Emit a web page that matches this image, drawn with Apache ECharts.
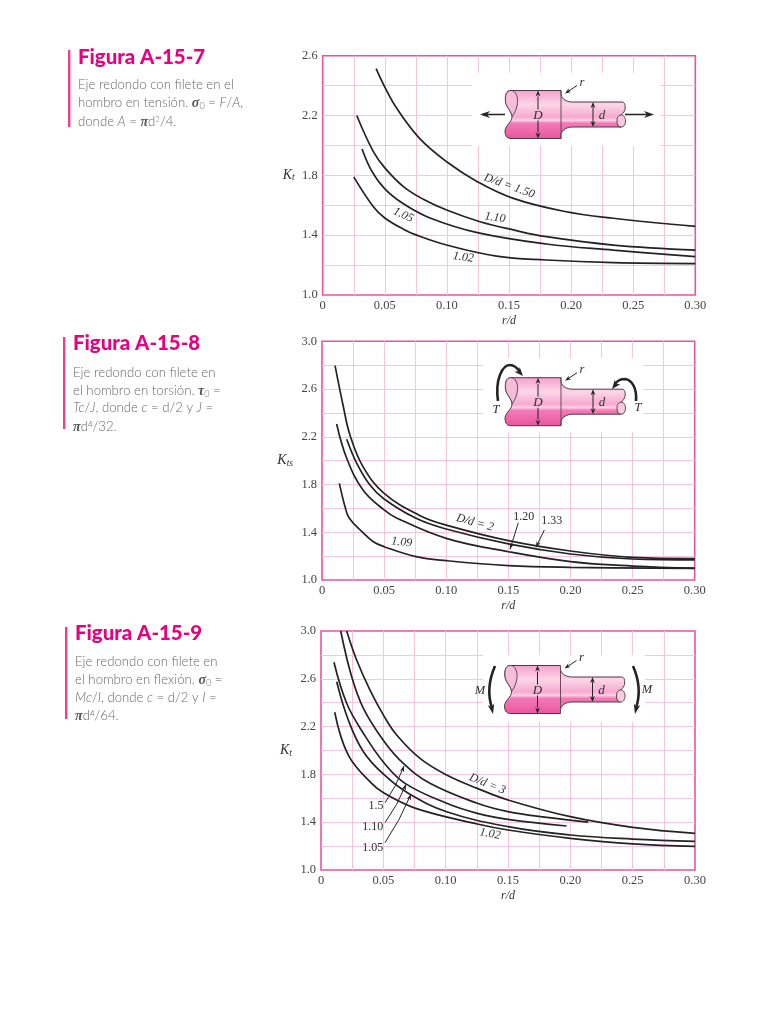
<!DOCTYPE html>
<html>
<head>
<meta charset="utf-8">
<title>Figuras A-15-7, A-15-8, A-15-9</title>
<script src="https://cdn.jsdelivr.net/npm/echarts@6/dist/echarts.min.js"></script>
<style>
  html, body { margin: 0; padding: 0; background: #fff; }
  #chart { width: 768px; height: 1024px; }
</style>
</head>
<body>
<div id="chart"></div>
<script>
// tick labels
const xTickLabels = ['0', '0.05', '0.10', '0.15', '0.20', '0.25', '0.30'];
const yTicks7 = ['1.0', '1.4', '1.8', '2.2', '2.6'];
const yTicks89 = ['1.0', '1.4', '1.8', '2.2', '2.6', '3.0'];

// Figura A-15-7, [r/d, Kt]
const fig7D150 = [[.043, 2.513], [.05, 2.39], [.0596, 2.248], [.078, 2.047], [.0998, 1.891], [.1245, 1.758], [.1535, 1.646], [.194, 1.56], [.234, 1.513], [.30, 1.459]];
const fig7D110 = [[.0274, 2.2], [.0408, 1.958], [.05, 1.85], [.065, 1.725], [.081, 1.64], [.0998, 1.568], [.1267, 1.49], [.1535, 1.435], [.18, 1.39], [.234, 1.334], [.30, 1.30]];
const fig7D105 = [[.0317, 1.976], [.0394, 1.83], [.05, 1.71], [.065, 1.61], [.0864, 1.515], [.1245, 1.417], [.18, 1.341], [.234, 1.30], [.30, 1.256]];
const fig7D102 = [[.025, 1.79], [.0408, 1.59], [.05, 1.515], [.065, 1.44], [.075, 1.402], [.0998, 1.334], [.14, 1.26], [.18, 1.234], [.234, 1.216], [.30, 1.21]];

// Figura A-15-8, [r/d, Kts]
const fig8D200 = [[.0105, 2.796], [.0172, 2.452], [.0225, 2.215], [.033, 1.95], [.05, 1.726], [.079, 1.539], [.10, 1.46], [.15, 1.33], [.20, 1.243], [.25, 1.19], [.30, 1.18]];
const fig8D133 = [[.0199, 2.18], [.028, 1.978], [.0386, 1.796], [.05, 1.679], [.0757, 1.517], [.10, 1.427], [.15, 1.302], [.20, 1.218], [.25, 1.176], [.30, 1.168]];
const fig8D120 = [[.0118, 2.307], [.0199, 2.02], [.033, 1.754], [.05, 1.587], [.06, 1.52], [.10, 1.349], [.15, 1.237], [.20, 1.154], [.25, 1.117], [.30, 1.10]];
const fig8D109 = [[.014, 1.81], [.0185, 1.615], [.022, 1.517], [.033, 1.397], [.0413, 1.321], [.05, 1.279], [.0757, 1.196], [.10, 1.162], [.15, 1.12], [.20, 1.106], [.30, 1.098]];

// Figura A-15-9, [r/d, Kt]
const fig9D300 = [[.0206, 3.0], [.0286, 2.757], [.0393, 2.506], [.0508, 2.283], [.0607, 2.13], [.0794, 1.934], [.1008, 1.795], [.1254, 1.683], [.15, 1.586], [.20, 1.446], [.25, 1.357], [.30, 1.307]];
const fig9D150 = [[.0158, 3.0], [.0246, 2.618], [.034, 2.353], [.0508, 2.074], [.066, 1.893], [.0874, 1.725], [.1254, 1.558], [.15, 1.488], [.181, 1.44], [.2144, 1.40]];
const fig9D110 = [[.0104, 2.738], [.0206, 2.395], [.034, 2.144], [.0508, 1.893], [.0674, 1.725], [.1008, 1.558], [.1254, 1.474], [.15, 1.424], [.197, 1.368]];
const fig9D105 = [[.0126, 2.576], [.0219, 2.255], [.034, 1.99], [.0508, 1.795], [.07, 1.642], [.1008, 1.488], [.15, 1.363], [.20, 1.293], [.25, 1.259], [.30, 1.24]];
const fig9D102 = [[.011, 2.32], [.0219, 1.962], [.0406, 1.725], [.0508, 1.642], [.076, 1.516], [.1254, 1.385], [.15, 1.335], [.20, 1.265], [.25, 1.218], [.30, 1.198]];

const SERIF = '"Liberation Serif", serif';
const SANS = 'Lato, "Open Sans", sans-serif';
const INK = '#232323';
const MAGENTA = '#e7007f';
const Z = 10;

// una rejilla por figura
const panels = [
  { left: 322.7, right: 695.3, top: 55.7, bottom: 295, min: 1, max: 2.6, yLabels: yTicks7, sub: 't', nameGap: 28, curves: [fig7D150, fig7D110, fig7D105, fig7D102] },
  { left: 322, right: 694.7, top: 341.3, bottom: 580, min: 1, max: 3, yLabels: yTicks89, sub: 'ts', nameGap: 29, curves: [fig8D200, fig8D133, fig8D120, fig8D109] },
  { left: 321, right: 695, top: 631, bottom: 870, min: 1, max: 3, yLabels: yTicks89, sub: 't', nameGap: 29, curves: [fig9D300, fig9D150, fig9D110, fig9D105, fig9D102] }
];

const grids = panels.map(p => ({
  show: true,
  left: p.left,
  top: p.top,
  width: p.right - p.left,
  height: p.bottom - p.top,
  backgroundColor: '#fff',
  borderColor: '#e8549f',
  borderWidth: 1.6
}));

const gridLine = { show: true, showMinLine: false, showMaxLine: false, lineStyle: { color: '#f8c3dc', width: 1 } };

const xAxes = panels.map((p, i) => ({
  type: 'value',
  gridIndex: i,
  min: 0,
  max: 0.3,
  interval: 0.025,
  name: 'r/d',
  nameLocation: 'middle',
  nameGap: 20,
  nameTextStyle: { fontFamily: SERIF, fontStyle: 'italic', fontSize: 12, color: '#333' },
  axisLine: { show: false },
  axisTick: { show: false },
  splitLine: gridLine,
  axisLabel: {
    margin: 4,
    fontFamily: SERIF,
    fontSize: 12.5,
    color: '#444',
    showMaxLabel: true,
    formatter: v => {
      const s = v === 0 ? '0' : v.toFixed(2);
      return xTickLabels.includes(s) && Math.abs(v * 20 - Math.round(v * 20)) < 1e-6 ? s : '';
    }
  }
}));

const yAxes = panels.map((p, i) => ({
  type: 'value',
  gridIndex: i,
  min: p.min,
  max: p.max,
  interval: 0.2,
  name: '{k|K}{s|' + p.sub + '}',
  nameLocation: 'middle',
  nameRotate: 0,
  nameGap: p.nameGap,
  nameTextStyle: {
    rich: {
      k: { fontFamily: SERIF, fontStyle: 'italic', fontSize: 14, color: '#333' },
      s: { fontFamily: SERIF, fontStyle: 'italic', fontSize: 9.5, color: '#333', verticalAlign: 'bottom', padding: [5, 0, 0, 0] }
    }
  },
  axisLine: { show: false },
  axisTick: { show: false },
  splitLine: gridLine,
  axisLabel: {
    margin: 5,
    fontFamily: SERIF,
    fontSize: 12.5,
    color: '#444',
    showMaxLabel: true,
    formatter: v => (p.yLabels.includes(v.toFixed(1)) ? v.toFixed(1) : '')
  }
}));

const series = [];
panels.forEach((p, i) => {
  p.curves.forEach(c => {
    series.push({
      type: 'line',
      xAxisIndex: i,
      yAxisIndex: i,
      data: c,
      showSymbol: false,
      smooth: 0.4,
      silent: true,
      lineStyle: { color: INK, width: 1.7 }
    });
  });
});

// textos y dibujos sobre la pagina
function txt(x, y, text, opt) {
  opt = opt || {};
  return {
    type: 'text',
    x: x,
    y: y,
    rotation: (opt.rot || 0) * Math.PI / 180,
    z: Z + 5,
    style: {
      text: text,
      fill: opt.fill || '#2e2e2e',
      font: opt.font || ('12px ' + SERIF),
      textAlign: opt.align || 'center',
      textVerticalAlign: 'middle',
      rich: opt.rich
    }
  };
}

// graphic no tiene tipo path, se registra una forma por cada trazo
let shapeCount = 0;
function path(d, fill, stroke, width) {
  const name = 'trazo' + (shapeCount++);
  echarts.graphic.registerShape(name, echarts.graphic.extendPath(d, {}));
  return {
    type: name,
    z: Z + 2,
    shape: {},
    style: { fill: fill || 'none', stroke: stroke || 'none', lineWidth: width || 1 }
  };
}

// punta de flecha en (x1, y1) viniendo desde (x0, y0)
function head(x0, y0, x1, y1, len, w) {
  const a = Math.atan2(y1 - y0, x1 - x0);
  const cx = x1 - len * Math.cos(a), cy = y1 - len * Math.sin(a);
  const nx = -Math.sin(a) * w, ny = Math.cos(a) * w;
  return 'M' + x1 + ' ' + y1 + 'L' + (cx + nx) + ' ' + (cy + ny) + 'L' + (x1 - len * 0.7 * Math.cos(a)) + ' ' + (y1 - len * 0.7 * Math.sin(a)) + 'L' + (cx - nx) + ' ' + (cy - ny) + 'Z';
}

// linea guia de una etiqueta; bend la curva un poco
function leader(x0, y0, x1, y1, bend) {
  const mx = (x0 + x1) / 2 + (bend || 0), my = (y0 + y1) / 2 + (bend || 0);
  return [path('M' + x0 + ' ' + y0 + 'Q' + mx + ' ' + my + ' ' + x1 + ' ' + y1, null, INK, 1), path(head(mx, my, x1, y1, 6, 2.2), INK)];
}

function curveLabel(x, y, text, rot) {
  return txt(x, y, text, { rot: rot, font: 'italic 12px ' + SERIF });
}

const shaftFill = {
  type: 'linear', x: 0, y: 0, x2: 0, y2: 1,
  colorStops: [
    { offset: 0, color: '#f59fca' },
    { offset: 0.3, color: '#fbd6e8' },
    { offset: 0.55, color: '#f7a9d0' },
    { offset: 0.62, color: '#fbcfe4' },
    { offset: 0.68, color: '#f27ab6' },
    { offset: 1, color: '#e9559f' }
  ]
};

// eje con filete; origen en el extremo izquierdo, a media altura
function shaft(ox, oy) {
  const outline = 'M6 -24L56 -24L56 -20C57 -15 62 -12.5 68 -12.5L117 -12.5C120 -12.5 120.5 -9 120 -5C119 -1 115 0 113 6C112 10 113 12.5 116 12.5L68 12.5C62 12.5 57 15 56 20L56 24L6 24C1 24 0 20 0 16C1 10 7 8 7 2C7 -3 1 -7 0.5 -13C0 -19 1 -24 6 -24Z';
  const lobeL = 'M6 -24C1 -24 0 -19 0.5 -13C1 -7 7 -3 7 2C11 -3 13 -10 12.5 -15C12 -21 9 -24 6 -24Z';
  const lobeR = 'M116 0.5C112.5 1 112 4 112 6.5C112 10 113.5 12.5 116 12.5C119 12.5 120.5 10 120.5 6.5C120.5 3 119 0.5 116 0.5Z';
  const kids = [
    path(outline, shaftFill, '#4a3a44', 1),
    path(lobeL, '#f7bcd9', '#4a3a44', 0.9),
    path(lobeR, '#f9c9df', '#4a3a44', 0.9),
    path('M56 -24L56 24', null, '#6b4a5c', 1),
    // flechas D y d
    path('M33 -18L33 -5M33 6L33 18', null, INK, 1),
    path(head(33, -10, 33, -24, 6, 2.4), INK),
    path(head(33, 10, 33, 24, 6, 2.4), INK),
    path('M88 -8L88 8', null, INK, 1),
    path(head(88, 0, 88, -12.5, 6, 2.4), INK),
    path(head(88, 0, 88, 12.5, 6, 2.4), INK),
    // flecha del radio
    path('M72 -29L63 -23', null, INK, 1),
    path(head(72, -29, 60, -21, 6, 2.2), INK),
    txt(33, 1, 'D', { font: 'italic 13px ' + SERIF }),
    txt(97, 1, 'd', { font: 'italic 13px ' + SERIF }),
    txt(77, -32, 'r', { font: 'italic 12.5px ' + SERIF })
  ];
  return { type: 'group', x: ox, y: oy, children: kids };
}

function whiteBox(x0, y0, x1, y1) {
  return { type: 'rect', z: Z, shape: { x: x0, y: y0, width: x1 - x0, height: y1 - y0 }, style: { fill: '#fff' } };
}

function sidebar(x, barX, barTop, barBottom, titleY, title, lines, lineY) {
  const rich = {
    i: { fontFamily: SANS, fontSize: 13.2, fontStyle: 'italic', fontWeight: 300, fill: '#6a6a6a' },
    g: { fontFamily: SERIF, fontSize: 14, fontStyle: 'italic', fontWeight: 'bold', fill: '#555' },
    sub: { fontFamily: SANS, fontSize: 9, fontWeight: 300, fill: '#6a6a6a', verticalAlign: 'bottom', padding: [6, 0, 0, 0] },
    sup: { fontFamily: SANS, fontSize: 8, fontWeight: 300, fill: '#6a6a6a', verticalAlign: 'top', padding: [0, 0, 6, 0] }
  };
  const els = [
    { type: 'rect', z: Z, shape: { x: barX, y: barTop, width: 2.4, height: barBottom - barTop }, style: { fill: '#e8408f' } },
    txt(x, titleY, title, { align: 'left', fill: MAGENTA, font: '900 20.4px ' + SANS })
  ];
  lines.forEach((l, i) => {
    els.push(txt(x, lineY[i], l, { align: 'left', fill: '#6a6a6a', font: '300 13.2px ' + SANS, rich: rich }));
  });
  return els;
}

const graphics = [
  // Figura A-15-7
  ...sidebar(78, 68, 50, 127, 57, 'Figura A-15-7',
    ['Eje redondo con filete en el', 'hombro en tensión. {g|σ}{sub|0} = {i|F}/{i|A},', 'donde {i|A} = {g|π}d{sup|2}/4.'], [85, 103, 122]),
  whiteBox(472, 73, 660, 146),
  shaft(505, 114.5),
  path('M483 114.5L505 114.5M625 114.5L650 114.5', null, INK, 1.3),
  path(head(495, 114.5, 480, 114.5, 10, 3.4), INK),
  path(head(640, 114.5, 654, 114.5, 10, 3.4), INK),
  curveLabel(509.3, 186, 'D/d = 1.50', -20),
  curveLabel(495, 217.7, '1.10', -8),
  curveLabel(403.3, 215, '1.05', -25),
  curveLabel(463.3, 257.3, '1.02', -8),

  // Figura A-15-8
  ...sidebar(73, 63, 337, 429, 343, 'Figura A-15-8',
    ['Eje redondo con filete en', 'el hombro en torsión. {g|τ}{sub|0} =', '{i|Tc}/{i|J}, donde {i|c} = d/2 y {i|J} =', '{g|π}d{sup|4}/32.'], [373, 391, 408, 427]),
  whiteBox(483, 358, 643, 432),
  shaft(505, 401.7),
  path('M498 401C495 380 502 365 510 365C515 365 518 369 520 372', null, INK, 2.6),
  path(head(514, 366, 523, 376, 9, 3.6), INK),
  path('M636 401C637 388 632 380 625 379C620 379 617 381 615 384', null, INK, 2.6),
  path(head(620, 379, 612, 389, 9, 3.6), INK),
  txt(496, 410, 'T', { font: 'italic 12.5px ' + SERIF }),
  txt(638, 408, 'T', { font: 'italic 12.5px ' + SERIF }),
  curveLabel(475, 522.7, 'D/d = 2', -15),
  txt(523.7, 516.7, '1.20'),
  txt(551.7, 521, '1.33'),
  ...leader(518.3, 522.7, 510, 549.3),
  ...leader(544.3, 530, 536, 547.3),
  curveLabel(401.7, 542.3, '1.09', -6),

  // Figura A-15-9
  ...sidebar(75, 65, 627, 719, 633, 'Figura A-15-9',
    ['Eje redondo con filete en', 'el hombro en flexión. {g|σ}{sub|0} =', '{i|Mc}/{i|I}, donde {i|c} = d/2 y {i|I} =', '{g|π}d{sup|4}/64.'], [662, 680, 698, 716]),
  whiteBox(483, 655, 645, 722),
  shaft(504.5, 689.5),
  path('M495 666C488 682 488 696 492 708', null, INK, 2.6),
  path(head(490, 700, 493, 714, 10, 3.4), INK),
  path('M633 666C640 682 640 696 636 708', null, INK, 2.6),
  path(head(638, 700, 635, 714, 10, 3.4), INK),
  txt(480, 691, 'M', { font: 'italic 12.5px ' + SERIF }),
  txt(647, 690, 'M', { font: 'italic 12.5px ' + SERIF }),
  curveLabel(487.3, 784, 'D/d = 3', -22),
  txt(376, 806, '1.5'),
  txt(372.7, 826.7, '1.10'),
  txt(372.7, 848, '1.05'),
  ...leader(385, 802.7, 404, 766, 2),
  ...leader(385, 822.7, 406, 784.3, 2),
  ...leader(385, 842.7, 411, 794.3, 2),
  curveLabel(490, 834, '1.02', -10)
];

const chart = echarts.init(document.getElementById('chart'), null, { renderer: 'canvas' });
chart.setOption({
  animation: false,
  backgroundColor: '#fff',
  grid: grids,
  xAxis: xAxes,
  yAxis: yAxes,
  series: series,
  graphic: { elements: graphics }
});
</script>
</body>
</html>
